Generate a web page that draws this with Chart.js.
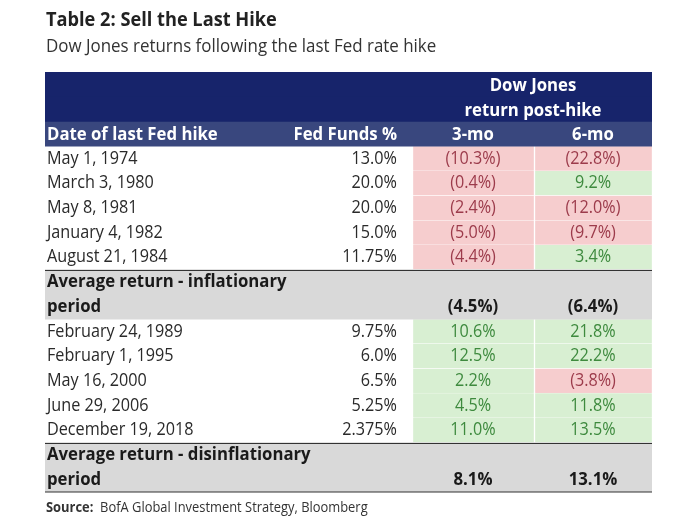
<!DOCTYPE html>
<html><head><meta charset="utf-8">
<script src="https://cdn.jsdelivr.net/npm/chart.js@4"></script>
<style>
body{margin:0;background:#fff;width:700px;height:520px;overflow:hidden;font-family:"Open Sans",sans-serif}
.h{position:absolute;left:46px;transform-origin:0 0;white-space:nowrap}
#t{top:5px;font:bold 20px "Open Sans",sans-serif;color:#222;transform:scaleX(0.91)}
#s{top:33px;font:18px "Open Sans",sans-serif;color:#333;transform:scaleX(0.94)}
#src{top:496px;font:15px "Open Sans",sans-serif;color:#333;transform:scaleX(0.86)}
#wrap{position:absolute;left:0;top:0;width:700px;height:520px}
</style></head><body>
<div id="wrap"><canvas id="c" width="700" height="520"></canvas></div>
<div id="t" class="h">Table 2: Sell the Last Hike</div>
<div id="s" class="h">Dow Jones returns following the last Fed rate hike</div>
<div id="src" class="h"><b>Source:</b>&nbsp; BofA Global Investment Strategy, Bloomberg</div>
<script>
// rows of the table (17 grid rows)
const rowKinds = ["h1","h2","h3","d","d","d","d","d","a1","a2","d","d","d","d","d","a1","a2"];
const dates = ["May 1, 1974","March 3, 1980","May 8, 1981","January 4, 1982","August 21, 1984",
  "February 24, 1989","February 1, 1995","May 16, 2000","June 29, 2006","December 19, 2018"];
const fedFunds = ["13.0%","20.0%","20.0%","15.0%","11.75%","9.75%","6.0%","6.5%","5.25%","2.375%"];
const ret3 = [-10.3,-0.4,-2.4,-5.0,-4.4,10.6,12.5,2.2,4.5,11.0];
const ret6 = [-22.8,9.2,-12.0,-9.7,3.4,21.8,22.2,-3.8,11.8,13.5];
const avgLabels = ["Average return - inflationary","period","Average return - disinflationary","period"];
const avg3 = [-4.5,8.1];
const avg6 = [-6.4,13.1];
// column boundaries in table units (0..607)
const colBounds = {all:[0,607], c3:[368,489], c6:[490,607]};

const fmt = v => v<0 ? "("+Math.abs(v).toFixed(1)+"%)" : v.toFixed(1)+"%";
const labels = rowKinds.map((k,i)=>i);
const dataRows = rowKinds.map((k,i)=>k==="d"?i:null).filter(v=>v!==null);
const avgRows = rowKinds.map((k,i)=>k==="a1"?i:null).filter(v=>v!==null);

function fill(fn){return labels.map(i=>fn(i));}
const navy = fill(i=>rowKinds[i]==="h1"||rowKinds[i]==="h2"?colBounds.all:null);
const navy2 = fill(i=>rowKinds[i]==="h3"?colBounds.all:null);
const grey = fill(i=>rowKinds[i]==="a1"||rowKinds[i]==="a2"?colBounds.all:null);
const c3 = fill(i=>dataRows.includes(i)?colBounds.c3:null);
const c6 = fill(i=>dataRows.includes(i)?colBounds.c6:null);
const col3 = labels.map(i=>{const d=dataRows.indexOf(i);return d<0?"#fff":(ret3[d]<0?"#f6cdce":"#d8efd2");});
const col6 = labels.map(i=>{const d=dataRows.indexOf(i);return d<0?"#fff":(ret6[d]<0?"#f6cdce":"#d8efd2");});

const F = '"Open Sans", sans-serif';
const textPlugin = {id:"txt", afterDatasetsDraw(ch){
  const ctx=ch.ctx, x=ch.scales.x, y=ch.scales.y;
  const X=v=>x.getPixelForValue(v), Y=v=>y.getPixelForValue(v);
  ctx.save(); ctx.strokeStyle="#333"; ctx.lineWidth=1.2;
  avgRows.forEach(r=>{const yy=Math.round((Y(r)+Y(r-1))/2)+0.5;ctx.beginPath();ctx.moveTo(X(0),yy);ctx.lineTo(X(607),yy);ctx.stroke();});
  const last=Y(16)+(Y(16)-Y(15))/2; ctx.beginPath();ctx.moveTo(X(0),last);ctx.lineTo(X(607),last);ctx.stroke();
  ctx.restore();
  ctx.save(); ctx.textBaseline="middle";
  const t=(s,xx,yy,al,font,col,sx)=>{ctx.save();ctx.translate(xx,yy);ctx.scale(sx,1);ctx.font=font;ctx.fillStyle=col;ctx.textAlign=al;ctx.fillText(s,0,0);ctx.restore();};
  const B="bold 18px "+F, N="18px "+F, SN=0.9, SB=0.93;
  t("Dow Jones",X(488),Y(0)+2,"center",B,"#fff",SB);
  t("return post-hike",X(488),Y(1)+2,"center",B,"#fff",SB);
  t("Date of last Fed hike",X(2),Y(2)+1,"left",B,"#fff",SB);
  t("Fed Funds %",X(352),Y(2)+1,"right",B,"#fff",SB);
  t("3-mo",X(428),Y(2)+1,"center",B,"#fff",SB);
  t("6-mo",X(548),Y(2)+1,"center",B,"#fff",SB);
  dataRows.forEach((r,d)=>{
    t(dates[d],X(2),Y(r),"left",N,"#2a2a2a",SN);
    t(fedFunds[d],X(352),Y(r),"right",N,"#2a2a2a",SN);
    t(fmt(ret3[d]),X(428),Y(r),"center",N,ret3[d]<0?"#9c3b4b":"#3e8a3e",SN);
    t(fmt(ret6[d]),X(548),Y(r),"center",N,ret6[d]<0?"#9c3b4b":"#3e8a3e",SN);
  });
  avgRows.forEach((r,k)=>{
    t(avgLabels[2*k],X(2),Y(r),"left",B,"#1a1a1a",SB);
    t(avgLabels[2*k+1],X(2),Y(r+1),"left",B,"#1a1a1a",SB);
    t(fmt(avg3[k]),X(428),Y(r+1),"center",B,"#1a1a1a",SB);
    t(fmt(avg6[k]),X(548),Y(r+1),"center",B,"#1a1a1a",SB);
  });
  ctx.restore();
}};
const ds=(data,bg,bw)=>({data,backgroundColor:bg,borderColor:"rgba(255,255,255,0.6)",borderWidth:bw||0,grouped:false,categoryPercentage:1,barPercentage:1,borderSkipped:false});
new Chart(document.getElementById("c"),{
  type:"bar",
  data:{labels,datasets:[ds(navy,"#17246b"),ds(navy2,"#39477e"),ds(grey,"#d9d9d9"),ds(c3,col3,0.5),ds(c6,col6,0.5)]},
  options:{indexAxis:"y",responsive:false,animation:false,
    layout:{padding:{left:45,right:48,top:72,bottom:28}},
    plugins:{legend:{display:false},tooltip:{enabled:false}},
    scales:{x:{type:"linear",min:0,max:607,display:false},
            y:{type:"category",display:false,offset:true}}},
  plugins:[textPlugin]
});
</script></body></html>
